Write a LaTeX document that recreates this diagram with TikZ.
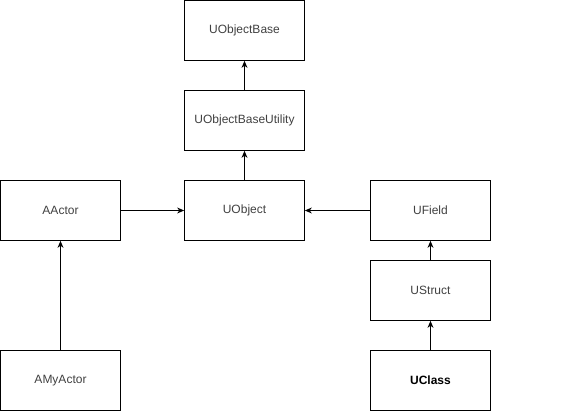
\documentclass[tikz,border=0pt]{standalone}
\usepackage{fontspec}
\setmainfont{Liberation Sans}
\usetikzlibrary{arrows.meta}

\begin{document}
\begin{tikzpicture}[x=1pt,y=-1pt,-{Stealth[length=7pt,width=6pt]},line width=0.9pt,
                box/.style={rectangle,draw=black,line width=0.8pt,minimum width=120pt,minimum height=60pt,
                  text=black!75,font=\fontsize{12}{14}\selectfont}]
            \useasboundingbox (0,0) rectangle (579,411);

            \node[box] (base) at (244.5,30.5) {UObjectBase};
            \node[box] (util) at (244.5,120.5) {UObjectBaseUtility};
            \node[box] (obj) at (244.5,210.5) {UObject};
            \node[box] (actor) at (60.5,210.5) {AActor};
            \node[box] (field) at (430.5,210.5) {UField};
            \node[box] (struct) at (430.5,290.5) {UStruct};
            \node[box] (myactor) at (60.5,380.5) {AMyActor};
            \node[box, text=black, font=\fontsize{12}{14}\selectfont\bfseries] (class) at (430.5,380.5) {UClass};

            \path
            (util) edge (base)
            (obj) edge (util)
            (actor) edge (obj)
            (field) edge (obj)
            (myactor) edge (actor)
            (struct) edge (field)
            (class) edge (struct);

        \end{tikzpicture}
\end{document}
